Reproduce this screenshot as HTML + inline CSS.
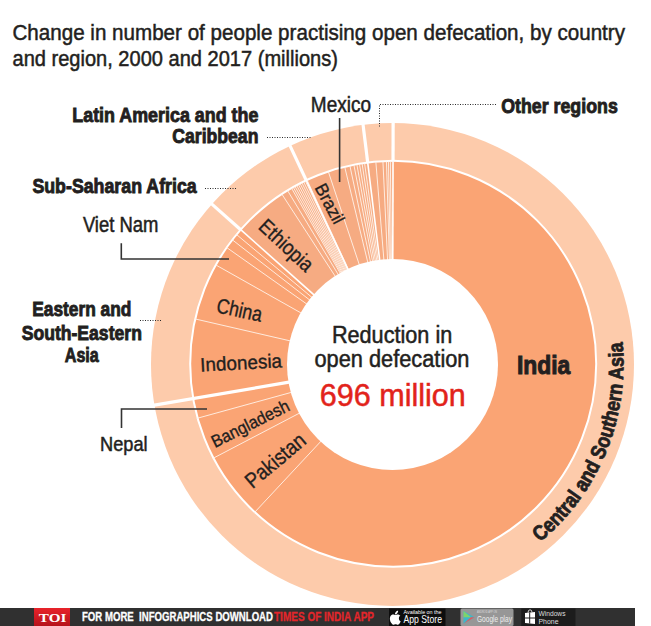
<!DOCTYPE html>
<html><head><meta charset="utf-8"><style>
html,body{margin:0;padding:0;background:#fff;width:651px;height:626px;overflow:hidden}
svg{display:block;font-family:"Liberation Sans",sans-serif}
</style></head><body>
<svg width="651" height="626" viewBox="0 0 651 626">
<circle cx="392.5" cy="364.5" r="241.5" fill="#FDCBAB"/>
<circle cx="393.2" cy="363.7" r="203" fill="#FAA474"/>
<path d="M241.07,230.05 A202.5,202.5 0 0 1 392.50,162.00 L392.50,260.00 A104.5,104.5 0 0 0 314.36,295.12 Z" fill="#F6AB82"/>
<circle cx="393.2" cy="363.7" r="203" fill="none" stroke="#fff" stroke-width="2"/>
<line x1="321.91" y1="440.20" x2="254.05" y2="512.96" stroke="#FFF3EA" stroke-width="0.9"/>
<line x1="300.78" y1="412.45" x2="212.60" y2="458.55" stroke="#FFF3EA" stroke-width="0.9"/>
<line x1="292.72" y1="391.99" x2="196.79" y2="418.41" stroke="#FFF3EA" stroke-width="0.9"/>
<line x1="291.65" y1="341.22" x2="194.70" y2="318.83" stroke="#FFF3EA" stroke-width="0.9"/>
<line x1="302.33" y1="313.69" x2="215.64" y2="264.85" stroke="#FFF3EA" stroke-width="0.9"/>
<line x1="307.93" y1="304.84" x2="226.62" y2="247.48" stroke="#FFF3EA" stroke-width="0.9"/>
<line x1="310.83" y1="300.92" x2="232.32" y2="239.80" stroke="#FFF3EA" stroke-width="0.9"/>
<line x1="312.98" y1="298.25" x2="236.54" y2="234.56" stroke="#FFF3EA" stroke-width="0.9"/>
<line x1="336.13" y1="277.70" x2="281.94" y2="194.25" stroke="#FFF3EA" stroke-width="0.9"/>
<line x1="339.04" y1="275.88" x2="287.64" y2="190.68" stroke="#FFF3EA" stroke-width="0.9"/>
<line x1="341.06" y1="274.69" x2="291.61" y2="188.34" stroke="#FFF3EA" stroke-width="0.9"/>
<line x1="359.83" y1="266.29" x2="328.42" y2="171.88" stroke="#FFF3EA" stroke-width="0.9"/>
<line x1="368.16" y1="263.90" x2="344.77" y2="167.19" stroke="#FFF3EA" stroke-width="0.9"/>
<line x1="370.80" y1="263.30" x2="349.95" y2="166.01" stroke="#FFF3EA" stroke-width="0.9"/>
<line x1="372.84" y1="262.88" x2="353.94" y2="165.20" stroke="#FFF3EA" stroke-width="0.9"/>
<line x1="374.35" y1="262.60" x2="356.90" y2="164.65" stroke="#FFF3EA" stroke-width="0.9"/>
<line x1="375.68" y1="262.38" x2="359.52" y2="164.20" stroke="#FFF3EA" stroke-width="0.9"/>
<line x1="377.02" y1="262.16" x2="362.14" y2="163.78" stroke="#FFF3EA" stroke-width="0.9"/>
<line x1="378.27" y1="261.98" x2="364.60" y2="163.43" stroke="#FFF3EA" stroke-width="0.9"/>
<line x1="384.02" y1="261.35" x2="375.87" y2="162.18" stroke="#FFF3EA" stroke-width="0.9"/>
<line x1="387.62" y1="261.11" x2="382.94" y2="161.73" stroke="#FFF3EA" stroke-width="0.9"/>
<line x1="389.43" y1="261.05" x2="386.48" y2="161.59" stroke="#FFF3EA" stroke-width="0.9"/>
<line x1="390.42" y1="261.02" x2="388.43" y2="161.54" stroke="#FFF3EA" stroke-width="0.9"/>
<line x1="391.42" y1="261.01" x2="390.37" y2="161.51" stroke="#FFF3EA" stroke-width="0.9"/>
<line x1="341.93" y1="274.20" x2="293.31" y2="187.38" stroke="#FFF3EA" stroke-width="0.9"/>
<line x1="342.80" y1="273.72" x2="295.01" y2="186.44" stroke="#FFF3EA" stroke-width="0.9"/>
<line x1="343.67" y1="273.24" x2="296.73" y2="185.51" stroke="#FFF3EA" stroke-width="0.9"/>
<line x1="344.55" y1="272.78" x2="298.45" y2="184.60" stroke="#FFF3EA" stroke-width="0.9"/>
<line x1="345.43" y1="272.32" x2="300.18" y2="183.71" stroke="#FFF3EA" stroke-width="0.9"/>
<line x1="346.32" y1="271.87" x2="301.92" y2="182.83" stroke="#FFF3EA" stroke-width="0.9"/>
<line x1="347.21" y1="271.44" x2="303.67" y2="181.97" stroke="#FFF3EA" stroke-width="0.9"/>
<line x1="348.11" y1="271.00" x2="305.43" y2="181.12" stroke="#FFF3EA" stroke-width="0.9"/>
<line x1="349.00" y1="270.58" x2="307.19" y2="180.30" stroke="#FFF3EA" stroke-width="0.9"/>
<line x1="290.48" y1="381.94" x2="151.50" y2="405.70" stroke="#fff" stroke-width="3.2"/>
<line x1="240.70" y1="229.72" x2="209.66" y2="202.17" stroke="#fff" stroke-width="3.2"/>
<line x1="315.10" y1="295.78" x2="240.70" y2="229.72" stroke="#fff" stroke-width="1.6"/>
<line x1="306.39" y1="180.67" x2="288.78" y2="143.09" stroke="#fff" stroke-width="3.2"/>
<line x1="348.60" y1="270.77" x2="306.39" y2="180.67" stroke="#fff" stroke-width="1.6"/>
<line x1="367.76" y1="163.01" x2="362.70" y2="121.82" stroke="#fff" stroke-width="3.2"/>
<line x1="379.89" y1="261.77" x2="367.76" y2="163.01" stroke="#fff" stroke-width="1.6"/>
<line x1="393.03" y1="161.50" x2="393.14" y2="120.00" stroke="#fff" stroke-width="3.2"/>
<line x1="392.77" y1="261.00" x2="393.03" y2="161.50" stroke="#fff" stroke-width="1.6"/>
<circle cx="392.5" cy="364.5" r="105.5" fill="#fff"/>
<text x="12.5" y="39.8" font-size="22.5" font-weight="normal" text-anchor="start" fill="#231F20" textLength="612.5" lengthAdjust="spacingAndGlyphs" stroke="#231F20" stroke-width="0.5">Change in number of people practising open defecation, by country</text>
<text x="12.5" y="65.8" font-size="22.5" font-weight="normal" text-anchor="start" fill="#231F20" textLength="325.4" lengthAdjust="spacingAndGlyphs" stroke="#231F20" stroke-width="0.5">and region, 2000 and 2017 (millions)</text>
<text x="72.3" y="121.5" font-size="20.5" font-weight="bold" text-anchor="start" fill="#231F20" textLength="186.1" lengthAdjust="spacingAndGlyphs" stroke="#231F20" stroke-width="0.9">Latin America and the</text>
<text x="172.3" y="142.7" font-size="20.5" font-weight="bold" text-anchor="start" fill="#231F20" textLength="86.1" lengthAdjust="spacingAndGlyphs" stroke="#231F20" stroke-width="0.9">Caribbean</text>
<text x="32.4" y="193.3" font-size="20.5" font-weight="bold" text-anchor="start" fill="#231F20" textLength="164.3" lengthAdjust="spacingAndGlyphs" stroke="#231F20" stroke-width="0.9">Sub-Saharan Africa</text>
<text x="82.9" y="232.1" font-size="21.5" font-weight="normal" text-anchor="start" fill="#231F20" textLength="75.6" lengthAdjust="spacingAndGlyphs" stroke="#231F20" stroke-width="0.5">Viet Nam</text>
<text x="32.2" y="316.1" font-size="20.5" font-weight="bold" text-anchor="start" fill="#231F20" textLength="99.2" lengthAdjust="spacingAndGlyphs" stroke="#231F20" stroke-width="0.9">Eastern and</text>
<text x="21.7" y="339.6" font-size="20.5" font-weight="bold" text-anchor="start" fill="#231F20" textLength="120.2" lengthAdjust="spacingAndGlyphs" stroke="#231F20" stroke-width="0.9">South-Eastern</text>
<text x="64.8" y="362.3" font-size="20.5" font-weight="bold" text-anchor="start" fill="#231F20" textLength="34.0" lengthAdjust="spacingAndGlyphs" stroke="#231F20" stroke-width="0.9">Asia</text>
<text x="100" y="451" font-size="21" font-weight="normal" text-anchor="start" fill="#231F20" textLength="47.6" lengthAdjust="spacingAndGlyphs" stroke="#231F20" stroke-width="0.5">Nepal</text>
<text x="310.8" y="111.9" font-size="21.5" font-weight="normal" text-anchor="start" fill="#231F20" textLength="60.2" lengthAdjust="spacingAndGlyphs" stroke="#231F20" stroke-width="0.5">Mexico</text>
<text x="501.2" y="113.1" font-size="20.5" font-weight="bold" text-anchor="start" fill="#231F20" textLength="116.6" lengthAdjust="spacingAndGlyphs" stroke="#231F20" stroke-width="0.9">Other regions</text>
<text x="516.9" y="373.9" font-size="26.5" font-weight="bold" text-anchor="start" fill="#231F20" textLength="53.4" lengthAdjust="spacingAndGlyphs" stroke="#231F20" stroke-width="1.0">India</text>
<text x="331.9" y="343.2" font-size="23" font-weight="normal" text-anchor="start" fill="#231F20" textLength="120.4" lengthAdjust="spacingAndGlyphs" stroke="#231F20" stroke-width="0.5">Reduction in</text>
<text x="314.4" y="367" font-size="23" font-weight="normal" text-anchor="start" fill="#231F20" textLength="155.1" lengthAdjust="spacingAndGlyphs" stroke="#231F20" stroke-width="0.5">open defecation</text>
<text x="319.8" y="405.9" font-size="31" font-weight="normal" text-anchor="start" fill="#E2231A" textLength="146" lengthAdjust="spacingAndGlyphs" stroke="#E2231A" stroke-width="0.5">696 million</text>
<polyline points="121.3,243.3 121.3,259 229,259" fill="none" stroke="#333" stroke-width="1.6"/>
<polyline points="121.5,428 121.5,409 207,409" fill="none" stroke="#333" stroke-width="1.6"/>
<line x1="339.6" y1="118" x2="339.6" y2="182" stroke="#333" stroke-width="1.6"/>
<polyline points="379.5,126.5 379.5,104.5 497.5,104.5" stroke="#2a2a2a" stroke-width="1" stroke-dasharray="1,1.5" fill="none"/>
<line x1="267" y1="137.5" x2="311" y2="137.5" stroke="#2a2a2a" stroke-width="1" stroke-dasharray="1,1.5" fill="none"/>
<line x1="205" y1="188.5" x2="237" y2="188.5" stroke="#2a2a2a" stroke-width="1" stroke-dasharray="1,1.5" fill="none"/>
<line x1="140" y1="320.5" x2="162" y2="320.5" stroke="#2a2a2a" stroke-width="1" stroke-dasharray="1,1.5" fill="none"/>
<text transform="translate(281.5,250.5) rotate(43)" font-size="21" font-weight="normal" text-anchor="middle" fill="#231F20" stroke="#231F20" stroke-width="0.35" textLength="66" lengthAdjust="spacingAndGlyphs">Ethiopia</text>
<text transform="translate(324.3,206.5) rotate(62)" font-size="18" font-weight="normal" text-anchor="middle" fill="#231F20" stroke="#231F20" stroke-width="0.35" textLength="43" lengthAdjust="spacingAndGlyphs">Brazil</text>
<text transform="translate(238,317) rotate(12.2)" font-size="21" font-weight="normal" text-anchor="middle" fill="#231F20" stroke="#231F20" stroke-width="0.35" textLength="46" lengthAdjust="spacingAndGlyphs">China</text>
<text transform="translate(241.4,369.5) rotate(-3)" font-size="19.5" font-weight="normal" text-anchor="middle" fill="#231F20" stroke="#231F20" stroke-width="0.35" textLength="82" lengthAdjust="spacingAndGlyphs">Indonesia</text>
<text transform="translate(253,429) rotate(-26.5)" font-size="17.5" font-weight="normal" text-anchor="middle" fill="#231F20" stroke="#231F20" stroke-width="0.35" textLength="85" lengthAdjust="spacingAndGlyphs">Bangladesh</text>
<text transform="translate(280,466) rotate(-40)" font-size="21.5" font-weight="normal" text-anchor="middle" fill="#231F20" stroke="#231F20" stroke-width="0.35" textLength="72" lengthAdjust="spacingAndGlyphs">Pakistan</text>
<path id="arc" d="M540.06,542.23 A231,231 0 0 0 622.44,342.36" fill="none"/>
<text font-size="21" font-weight="bold" fill="#231F20" stroke="#231F20" stroke-width="0.8"><textPath href="#arc" textLength="225.0" lengthAdjust="spacingAndGlyphs">Central and Southern Asia</textPath></text>
<rect x="0" y="608" width="635" height="18" fill="#303030"/>
<defs><linearGradient id="tg" x1="0" y1="0" x2="0" y2="1"><stop offset="0" stop-color="#e8232a"/><stop offset="1" stop-color="#b5121b"/></linearGradient></defs>
<rect x="34" y="608" width="36" height="18" fill="url(#tg)"/>
<text x="52.6" y="621.6" font-family="Liberation Serif" font-weight="bold" font-size="13.5" fill="#fff" text-anchor="middle" textLength="27.5" lengthAdjust="spacingAndGlyphs">TOI</text>
<text x="82" y="620.8" font-weight="bold" font-size="12.5" fill="#fff" stroke="#fff" stroke-width="0.3" textLength="191" lengthAdjust="spacingAndGlyphs">FOR MORE&#160; INFOGRAPHICS DOWNLOAD</text>
<text x="274" y="620.8" font-weight="bold" font-size="12.5" fill="#e3262b" stroke="#e3262b" stroke-width="0.3" textLength="100" lengthAdjust="spacingAndGlyphs">TIMES OF INDIA APP</text>
<rect x="389" y="608.5" width="56.5" height="17.5" fill="#0d0d0d"/>
<path d="M397.2,613.3 c0.6,-0.7 1,-1.6 0.9,-2.5 c-0.8,0 -1.8,0.5 -2.3,1.2 c-0.5,0.6 -0.9,1.5 -0.8,2.4 c0.9,0.1 1.7,-0.4 2.2,-1.1 z M398.9,618.2 c0,-1.6 1.3,-2.4 1.4,-2.4 c-0.8,-1.1 -2,-1.3 -2.4,-1.3 c-1,-0.1 -2,0.6 -2.5,0.6 c-0.5,0 -1.3,-0.6 -2.2,-0.6 c-1.1,0 -2.2,0.7 -2.8,1.7 c-1.2,2.1 -0.3,5.2 0.9,6.9 c0.6,0.8 1.2,1.7 2.1,1.7 c0.8,0 1.2,-0.5 2.2,-0.5 c1,0 1.3,0.5 2.2,0.5 c0.9,0 1.5,-0.8 2,-1.7 c0.6,-0.9 0.9,-1.8 0.9,-1.8 c0,0 -1.8,-0.7 -1.8,-2.6 z" fill="#fff"/>
<text x="403.5" y="613.8" font-size="5" fill="#fff" textLength="38" lengthAdjust="spacingAndGlyphs">Available on the</text>
<text x="403.5" y="622.6" font-size="10.5" fill="#fff" textLength="38.5" lengthAdjust="spacingAndGlyphs">App Store</text>
<rect x="460.5" y="608.5" width="53" height="17.5" rx="1.5" fill="#979797"/>
<path d="M463.5,611 L474.5,617.3 L463.5,623.8 Z" fill="#3fb6c9"/>
<path d="M463.5,611 L471,617.3 L463.5,617.3 Z" fill="#7fd36b"/>
<path d="M471,617.3 L474.5,617.3 L463.5,623.8 Z" fill="#e8565a"/>
<text x="477" y="612.8" font-size="3.5" fill="#ddd" textLength="20" lengthAdjust="spacingAndGlyphs">ANDROID APP ON</text>
<text x="477" y="622" font-size="9.5" fill="#eee" textLength="35" lengthAdjust="spacingAndGlyphs">Google play</text>
<rect x="521.3" y="608.5" width="54.2" height="17.5" fill="#1c1c1c"/>
<path d="M525,613 L535,612 L535,624 L525,623 Z" fill="#fff"/>
<path d="M529.7,612.5 L529.7,623.5 M525,618 L535,618" stroke="#1c1c1c" stroke-width="1"/>
<path d="M528,612.8 Q528,609.8 530,609.8 Q532,609.8 532,612.3" stroke="#fff" stroke-width="0.8" fill="none"/>
<text x="538.5" y="615.8" font-size="7.5" fill="#ddd" textLength="27" lengthAdjust="spacingAndGlyphs">Windows</text>
<text x="538.5" y="623.5" font-size="7.5" fill="#ddd" textLength="20" lengthAdjust="spacingAndGlyphs">Phone</text>
</svg>
</body></html>
